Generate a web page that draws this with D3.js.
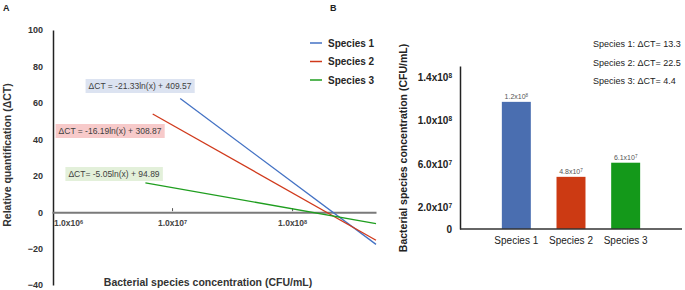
<!DOCTYPE html>
<html>
<head>
<meta charset="utf-8">
<script src="https://cdn.jsdelivr.net/npm/d3@7"></script>
<style>
  body { margin: 0; background: #fff; }
  svg { display: block; font-family: "Liberation Sans", Arial, sans-serif; }
  .narrow { font-family: "Liberation Sans Narrow", "Liberation Sans", Arial, sans-serif; }
</style>
</head>
<body>
<div id="chart"></div>
<script>
// ---- Panel A data: trend line end points ----
const speciesNames = ['Species 1', 'Species 2', 'Species 3'];
const lineX = [[1.17e7, 5e8], [6.9e6, 5e8], [6.0e6, 5e8]];
const lineY = [[62.4, -17.7], [53.9, -15.4], [16.1, -6.3]];
const equations = ['ΔCT = -21.33ln(x) + 409.57', 'ΔCT = -16.19ln(x) + 308.87', 'ΔCT= -5.05ln(x) + 94.89'];
const yTicksA = [100, 80, 60, 40, 20, 0, -20, -40];
const xTicksA = [1e6, 1e7, 1e8];

// ---- Panel B data ----
const barValues = [1.17e8, 4.8e7, 6.1e7];
const barLabels = [['1.2x10', '8'], ['4.8x10', '7'], ['6.1x10', '7']];
const yTicksB = [0, 2e7, 6e7, 1e8, 1.4e8];
const deltaCT = [13.3, 22.5, 4.4];

const lineColors = ['#4472C4', '#D0391B', '#1F9E1F'];
const barColors = ['#4A6EB0', '#CC3A13', '#14991A'];
const eqFill = ['#DCE3F1', '#F7CACA', '#E3F0DA'];

const W = 685, H = 290;
const svg = d3.select('#chart').append('svg').attr('width', W).attr('height', H);

// write "1.0x10" + superscript exponent into a text node
function supText(sel, base, exp) {
  sel.text(null);
  sel.append('tspan').text(base);
  sel.append('tspan').attr('font-size', '0.65em').attr('dy', '-0.45em').text(exp);
}

// ================= Panel A =================
const xA = d3.scaleLog().domain([1e6, 5e8]).range([52, 376]);
const yA = d3.scaleLinear().domain([-40, 100]).range([285, 30]);

svg.append('text').attr('x', 3).attr('y', 11)
  .attr('font-size', 9).attr('font-weight', 'bold').attr('fill', '#222').text('A');

// y axis
const gyA = svg.append('g').attr('transform', `translate(${xA(1e6) + 1},0)`)
  .call(d3.axisLeft(yA).tickValues(yTicksA).tickSize(0).tickPadding(10).tickFormat(d3.format('d')));
gyA.select('.domain').attr('stroke', '#222').attr('stroke-width', 1.5);
gyA.selectAll('text').attr('font-size', 9).attr('font-weight', 'bold').attr('fill', '#333')
  .attr('font-family', '"Liberation Sans", Arial, sans-serif');

// x axis along zero
const gxA = svg.append('g').attr('transform', `translate(0,${yA(0)})`)
  .call(d3.axisBottom(xA).tickValues(xTicksA).tickSize(0).tickPadding(8));
gxA.select('.domain').attr('stroke', '#7a7a7a').attr('stroke-width', 2);
gxA.selectAll('.tick').append('line').attr('y1', -1).attr('y2', -4).attr('stroke', '#555')
  .attr('display', d => d === 1e6 ? 'none' : null);
gxA.selectAll('text')
  .attr('font-size', 8.5).attr('font-weight', 'bold').attr('fill', '#444')
  .attr('font-family', '"Liberation Sans", Arial, sans-serif')
  .attr('dx', d => d === 1e6 ? 16 : 0)
  .each(function(d) { supText(d3.select(this), '1.0x10', String(Math.round(Math.log10(d)))); });

// trend lines
const line = d3.line().x(d => xA(d[0])).y(d => yA(d[1]));
speciesNames.forEach((s, i) => {
  svg.append('path')
    .datum(lineX[i].map((x, k) => [x, lineY[i][k]]))
    .attr('d', line).attr('fill', 'none')
    .attr('stroke', lineColors[i]).attr('stroke-width', 1.3);
});

// equation labels
const eqPos = [[140, 86], [110, 131], [114, 174]];
equations.forEach((eq, i) => {
  const g = svg.append('g').attr('transform', `translate(${eqPos[i][0]},${eqPos[i][1]})`);
  const t = g.append('text').attr('class', 'narrow').attr('text-anchor', 'middle').attr('dy', '0.35em')
    .attr('font-size', 8.5).attr('fill', '#404040').text(eq);
  const bb = t.node().getBBox();
  g.insert('rect', 'text').attr('x', bb.x - 3).attr('y', -7).attr('width', bb.width + 6).attr('height', 14)
    .attr('fill', eqFill[i]);
});

// legend
const legY = d3.scalePoint().domain(speciesNames).range([43, 80]);
speciesNames.forEach((s, i) => {
  svg.append('line').attr('x1', 310).attr('x2', 322).attr('y1', legY(s)).attr('y2', legY(s))
    .attr('stroke', lineColors[i]).attr('stroke-width', 1.5);
  svg.append('text').attr('x', 328).attr('y', legY(s)).attr('dy', '0.35em')
    .attr('font-size', 10).attr('font-weight', 'bold').attr('fill', '#262626').text(s);
});

// x title
svg.append('text').attr('x', 208).attr('y', 286)
  .attr('text-anchor', 'middle').attr('font-size', 10.5).attr('font-weight', 'bold').attr('fill', '#333')
  .text('Bacterial species concentration (CFU/mL)');
// y title
svg.append('text').attr('transform', 'translate(11,155) rotate(-90)')
  .attr('text-anchor', 'middle').attr('font-size', 10.5).attr('font-weight', 'bold').attr('fill', '#333')
  .text('Relative quantification (ΔCT)');

// ================= Panel B =================
const xB = d3.scaleBand().domain(speciesNames).range([489, 653]).paddingInner(0.47).paddingOuter(0.235);
const yB = d3.scaleLinear().domain([0, 1.5e8]).range([229, 66]);

svg.append('text').attr('x', 330).attr('y', 11)
  .attr('font-size', 9).attr('font-weight', 'bold').attr('fill', '#222').text('B');

// bars
svg.selectAll('rect.bar').data(barValues).join('rect').attr('class', 'bar')
  .attr('x', (d, i) => xB(speciesNames[i]))
  .attr('y', d => yB(d))
  .attr('width', xB.bandwidth())
  .attr('height', d => yB(0) - yB(d))
  .attr('fill', (d, i) => barColors[i]);

svg.selectAll('text.barlab').data(barValues).join('text').attr('class', 'barlab narrow')
  .attr('x', (d, i) => xB(speciesNames[i]) + xB.bandwidth() / 2)
  .attr('y', d => yB(d) - 2.5)
  .attr('text-anchor', 'middle').attr('font-size', 7).attr('fill', '#555')
  .each(function(d, i) { supText(d3.select(this), barLabels[i][0], barLabels[i][1]); });

// y axis
const gyB = svg.append('g').attr('transform', 'translate(460,0)')
  .call(d3.axisLeft(yB).tickValues(yTicksB).tickSize(0).tickPadding(8));
gyB.select('.domain').attr('stroke', '#222').attr('stroke-width', 1.5);
gyB.selectAll('text').attr('font-size', 10).attr('font-weight', 'bold').attr('fill', '#222')
  .attr('font-family', '"Liberation Sans", Arial, sans-serif')
  .each(function(d) {
    if (d === 0) { d3.select(this).text('0'); return; }
    const e = Math.floor(Math.log10(d));
    supText(d3.select(this), (d / Math.pow(10, e)).toFixed(1) + 'x10', String(e));
  });

// x axis
svg.append('line').attr('x1', 460).attr('x2', 682).attr('y1', yB(0)).attr('y2', yB(0))
  .attr('stroke', '#333').attr('stroke-width', 1.5);
svg.selectAll('text.catlab').data(speciesNames).join('text').attr('class', 'catlab narrow')
  .attr('x', d => xB(d) + xB.bandwidth() / 2).attr('y', 240).attr('dy', '0.35em')
  .attr('text-anchor', 'middle').attr('font-size', 10).attr('fill', '#222').text(d => d);

// y title
svg.append('text').attr('transform', 'translate(407,148) rotate(-90)')
  .attr('text-anchor', 'middle').attr('font-size', 10.5).attr('font-weight', 'bold').attr('fill', '#222')
  .text('Bacterial species concentration (CFU/mL)');

// delta CT notes
speciesNames.forEach((s, i) => {
  svg.append('text').attr('class', 'narrow').attr('x', 593).attr('y', legY(s) + 1).attr('dy', '0.35em')
    .attr('font-size', 9).attr('fill', '#222').text(`${s}: ΔCT= ${deltaCT[i]}`);
});
</script>
</body>
</html>
